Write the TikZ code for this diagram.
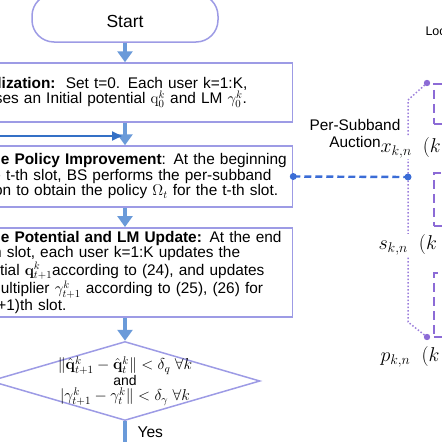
\RequirePackage{fix-cm}
\documentclass[tikz,border=0pt]{standalone}
\usepackage[no-math]{fontspec}
\setmainfont{Liberation Sans}
\usetikzlibrary{arrows.meta,positioning,shapes.geometric}
\definecolor{BoxLine}{HTML}{9D9BE5}
\definecolor{FlowBlue}{HTML}{6A9AD9}
\definecolor{LoopBlue}{HTML}{3470C6}
\definecolor{LinkBlue}{HTML}{3A6CD6}
\definecolor{LinkPurple}{HTML}{9B7EDB}
\definecolor{UserPurple}{HTML}{8C6BD6}
\tikzset{
  startbox/.style={
    rounded corners=22pt, draw=BoxLine, line width=1.5pt,
    minimum width=186pt, minimum height=48pt, text height=20pt,
    font=\fontsize{17.5}{18}\selectfont
  },
  flowbox/.style={
    draw=BoxLine, line width=1.5pt, text width=327pt, inner xsep=4pt,
    align=left, font=\fontsize{15.4}{15.5}\selectfont
  },
  decbox/.style={
    diamond, aspect=3.44, draw=BoxLine, line width=1.5pt,
    inner xsep=-20pt, inner ysep=-6pt,
    minimum width=270pt, minimum height=79pt,
    align=center, font=\fontsize{15.8}{15.5}\selectfont
  },
  userbox/.style={
    draw=UserPurple, line width=1.6pt, dash pattern=on 9pt off 5pt,
    minimum width=110pt, anchor=north west
  },
  sublabel/.style={anchor=west, fill=white, inner sep=0.3pt,
    font=\fontsize{20}{20}\selectfont},
  flow/.style={-{Triangle[width=15pt,length=11pt]}, line width=4.5pt, draw=FlowBlue},
  loopflow/.style={-{Triangle[width=9pt,length=10pt]}, line width=2pt, draw=LoopBlue},
  auclink/.style={line width=2.4pt, draw=LinkBlue, dash pattern=on 7pt off 4pt},
  userlink/.style={line width=1.5pt, draw=LinkPurple, dash pattern=on 1.5pt off 2pt}
}

\begin{document}
\begin{tikzpicture}[x=1pt,y=-1pt]
  \useasboundingbox (0,0) rectangle (442,442);
  \clip (0,0) rectangle (442,442);

  % main column
  \node[startbox] (start) at (125,18) {Start};
  \node[flowbox, minimum height=59pt] (init) at (125,92.5)
    {\textbf{Initialization:}\ \ Set t=0. Each user k=1:K,\\
     chooses an Initial potential $\mathrm{q}_0^k$ and LM $\gamma_0^k$.};
  \node[flowbox, minimum height=61pt] (policy) at (125,176.5)
    {\textbf{Online Policy Improvement}: At the beginning\\
     of the t-th slot, BS performs the per-subband\\
     auction to obtain the policy $\Omega_t$ for the t-th slot.};
  \node[flowbox, minimum height=85pt] (update) at (125,272.5)
    {\textbf{Online Potential and LM Update:} At the end\\
     of t-th slot, each user k=1:K updates the\\
     potential $\mathbf{q}_{t+1}^k$according to (24), and updates\\
     LM multiplier $\gamma_{t+1}^k$ according to (25), (26) for\\
     the (t+1)th slot.};
  \node[decbox] (dec) at (125,381)
    {$\|\hat{\mathbf{q}}_{t+1}^k-\hat{\mathbf{q}}_t^k\| < \delta_q\ \forall k$\\
     {\fontsize{14}{14}\selectfont and}\\
     $|\gamma_{t+1}^k-\gamma_t^k\| < \delta_\gamma\ \forall k$};
  \coordinate (next) at (125,470);
  \node[anchor=west, font=\fontsize{15.6}{16}\selectfont] (yes) at (134,432) {Yes};

  \draw[flow] (start) -- (start |- init.north);
  \draw[flow] (init) -- (policy);
  \draw[flow] (policy) -- (update);
  \draw[flow] (update) -- (dec);
  \draw[flow] (dec) -- (next);

  % back to the policy step
  \coordinate (join) at (122,136);
  \draw[loopflow] (dec.west) -- ++(-25,0) |- (join);

  % auction side
  \coordinate (auc) at (408,177);
  \coordinate (utop) at (427,83);
  \coordinate (ubot) at (427,337);
  \node[userbox, minimum height=40pt] (user1) at (433,83) {};
  \node[userbox, minimum height=53pt] (user2) at (433,172) {};
  \node[userbox, minimum height=64pt] (user3) at (433,272) {};
  \draw[auclink] (policy.east) -- (auc);
  \draw[userlink] (auc) -- ++(0,-77) -- (utop);
  \draw[userlink] (auc) -- ++(0,145) -- (ubot);
  \fill[LinkBlue] (policy.east) circle (3.5);
  \fill[LinkBlue] (auc) circle (3.5);
  \fill[UserPurple] (utop) circle (3.2);
  \fill[UserPurple] (ubot) circle (3.2);

  \node[align=center, font=\fontsize{15.4}{17}\selectfont] (auclab) at (355,133)
    {Per-Subband\\Auction};
  \node[sublabel] (xlab) at (380,148) {$x_{k,n}\ \ (k=1,\dots,K)$};
  \node[sublabel] (slab) at (378,245) {$s_{k,n}\ \ (k=1,\dots,K)$};
  \node[sublabel] (plab) at (380,357) {$p_{k,n}\ \ (k=1,\dots,K)$};
  \node[anchor=west, font=\fontsize{12.5}{14}\selectfont] (loc) at (422,31) {Local Users};
\end{tikzpicture}
\end{document}
